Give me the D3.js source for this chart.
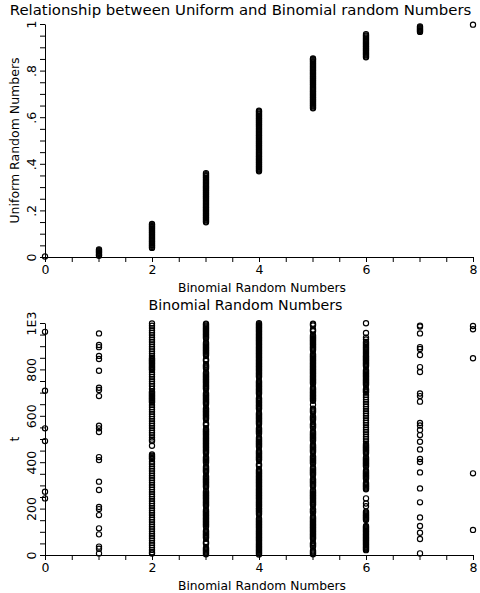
<!DOCTYPE html>
<html><head><meta charset="utf-8">
<script src="https://cdn.jsdelivr.net/npm/d3@7"></script>
<style>body{margin:0;background:#fff} svg{display:block} text{font-family:"DejaVu Sans",sans-serif;fill:#000}</style>
</head><body><svg id="c" width="480" height="593"></svg>
<script>
// ---- data ----
const binomialValues = [0, 1, 2, 3, 4, 5, 6, 7, 8];
const uniformCol0 = [0.002];
const uniformCol1 = [0.005, 0.009, 0.013, 0.017, 0.021, 0.025, 0.029, 0.033];
const uniformCol2 = [0.039, 0.043, 0.048, 0.052, 0.057, 0.061, 0.066, 0.070, 0.075, 0.079, 0.084, 0.088, 0.093, 0.097, 0.102, 0.106, 0.111, 0.115, 0.120, 0.124, 0.129, 0.133, 0.138, 0.142];
const uniformCol3 = [0.149, 0.153, 0.158, 0.162, 0.167, 0.171, 0.176, 0.180, 0.185, 0.189, 0.194, 0.198, 0.203, 0.207, 0.212, 0.216, 0.221, 0.225, 0.230, 0.234, 0.239, 0.243, 0.248, 0.252, 0.257, 0.261, 0.266, 0.270, 0.275, 0.279, 0.284, 0.288, 0.293, 0.297, 0.302, 0.306, 0.311, 0.315, 0.320, 0.324, 0.329, 0.333, 0.338, 0.342, 0.347, 0.351, 0.356, 0.360];
const uniformCol4 = [0.368, 0.372, 0.377, 0.381, 0.386, 0.390, 0.395, 0.399, 0.404, 0.408, 0.413, 0.417, 0.422, 0.426, 0.431, 0.435, 0.440, 0.444, 0.449, 0.453, 0.458, 0.462, 0.467, 0.471, 0.476, 0.480, 0.485, 0.489, 0.494, 0.498, 0.503, 0.507, 0.512, 0.516, 0.521, 0.525, 0.530, 0.534, 0.539, 0.543, 0.548, 0.552, 0.557, 0.561, 0.566, 0.570, 0.575, 0.579, 0.584, 0.588, 0.593, 0.597, 0.602, 0.606, 0.611, 0.615, 0.620, 0.624, 0.628];
const uniformCol5 = [0.638, 0.642, 0.647, 0.651, 0.656, 0.660, 0.665, 0.669, 0.674, 0.678, 0.683, 0.687, 0.692, 0.696, 0.701, 0.705, 0.710, 0.714, 0.719, 0.723, 0.728, 0.732, 0.737, 0.741, 0.746, 0.750, 0.755, 0.759, 0.764, 0.768, 0.773, 0.777, 0.782, 0.786, 0.791, 0.795, 0.800, 0.804, 0.809, 0.813, 0.818, 0.822, 0.827, 0.831, 0.836, 0.840, 0.845, 0.849, 0.852];
const uniformCol6 = [0.857, 0.861, 0.866, 0.870, 0.875, 0.879, 0.884, 0.888, 0.893, 0.897, 0.902, 0.906, 0.911, 0.915, 0.920, 0.924, 0.929, 0.933, 0.938, 0.942, 0.947, 0.951, 0.956];
const uniformCol7 = [0.966, 0.970, 0.974, 0.978, 0.982, 0.986, 0.990];
const uniformCol8 = [0.997];

const tCol0 = [962, 708, 546, 491, 273, 244];
const tCol1 = [955, 905, 896, 858, 845, 794, 721, 711, 685, 557, 546, 530, 422, 409, 316, 280, 207, 198, 172, 115, 89, 36, 27, 7];
const tCol2 = [998, 988, 978, 968, 958, 948, 938, 928, 918, 908, 898, 888, 878, 868, 858, 849, 845, 841, 837, 833, 829, 825, 821, 817, 813, 809, 805, 801, 797, 788, 778, 768, 758, 748, 738, 728, 716, 705, 701, 697, 693, 689, 685, 681, 677, 673, 669, 665, 661, 657, 647, 637, 627, 617, 607, 597, 587, 577, 567, 557, 547, 537, 527, 517, 507, 497, 491, 471, 433, 428, 423, 418, 414, 402, 392, 382, 372, 362, 352, 342, 332, 322, 312, 302, 292, 282, 272, 262, 252, 242, 232, 222, 212, 202, 192, 182, 172, 162, 152, 142, 132, 122, 112, 102, 92, 82, 72, 62, 52, 42, 32, 22, 12, 6];
const tCol3 = [997, 993, 989, 985, 981, 977, 973, 969, 965, 961, 957, 953, 949, 945, 941, 937, 933, 916, 912, 908, 904, 900, 896, 892, 888, 884, 880, 876, 872, 868, 864, 860, 844, 840, 836, 820, 816, 812, 808, 804, 787, 783, 779, 775, 771, 767, 763, 759, 755, 751, 747, 743, 739, 735, 731, 727, 723, 719, 715, 698, 694, 690, 686, 682, 678, 674, 670, 666, 662, 658, 654, 650, 633, 629, 625, 621, 617, 613, 609, 605, 601, 597, 593, 589, 585, 568, 564, 560, 543, 539, 535, 531, 527, 523, 519, 515, 511, 507, 503, 499, 495, 491, 487, 483, 479, 475, 471, 467, 463, 459, 455, 451, 447, 443, 439, 422, 418, 414, 410, 406, 402, 398, 381, 377, 373, 369, 365, 361, 357, 340, 336, 332, 328, 324, 320, 316, 312, 308, 304, 300, 296, 292, 275, 271, 267, 263, 259, 255, 251, 247, 243, 239, 235, 231, 227, 223, 219, 215, 211, 194, 190, 186, 182, 178, 174, 170, 166, 162, 158, 154, 150, 146, 142, 138, 134, 130, 126, 122, 105, 101, 97, 93, 89, 85, 81, 77, 73, 56, 52, 48, 31, 27, 23, 19, 15, 11, 7, 3];
const tCol4 = [999, 995, 991, 987, 983, 979, 975, 971, 967, 963, 959, 955, 951, 947, 943, 939, 935, 931, 927, 923, 919, 915, 911, 907, 903, 899, 895, 891, 887, 883, 879, 875, 871, 867, 863, 859, 855, 851, 847, 843, 839, 835, 831, 827, 823, 819, 815, 811, 807, 803, 799, 795, 791, 787, 783, 779, 775, 771, 767, 750, 746, 742, 738, 734, 730, 726, 722, 718, 714, 710, 706, 702, 698, 694, 677, 673, 669, 665, 661, 657, 653, 649, 645, 641, 637, 633, 629, 612, 608, 604, 600, 596, 592, 588, 584, 580, 576, 572, 568, 564, 547, 543, 539, 535, 531, 527, 523, 506, 502, 498, 494, 490, 486, 482, 478, 474, 470, 466, 449, 445, 441, 437, 433, 429, 425, 421, 417, 413, 409, 392, 388, 384, 367, 363, 359, 355, 351, 347, 343, 339, 335, 331, 327, 323, 319, 315, 311, 307, 303, 299, 295, 291, 287, 283, 279, 275, 271, 267, 263, 259, 255, 251, 247, 243, 239, 235, 231, 227, 223, 219, 215, 211, 207, 203, 199, 195, 191, 187, 183, 179, 175, 158, 154, 150, 146, 142, 138, 134, 130, 126, 122, 118, 114, 110, 106, 102, 98, 94, 90, 86, 82, 78, 74, 70, 66, 62, 58, 54, 50, 46, 42, 38, 34, 30, 26, 22, 18, 14, 10, 6, 2];
const tCol5 = [997, 993, 989, 972, 968, 964, 947, 943, 939, 935, 931, 927, 923, 919, 915, 911, 907, 903, 899, 895, 891, 887, 883, 866, 862, 858, 854, 850, 846, 842, 838, 834, 830, 826, 822, 818, 814, 810, 806, 802, 798, 794, 790, 786, 782, 778, 774, 770, 766, 762, 758, 754, 750, 746, 742, 738, 721, 717, 713, 709, 705, 701, 697, 693, 689, 685, 681, 677, 673, 669, 665, 648, 631, 627, 623, 619, 615, 598, 594, 590, 586, 582, 565, 561, 557, 553, 549, 532, 528, 524, 520, 516, 512, 508, 504, 500, 496, 492, 475, 471, 467, 463, 459, 455, 451, 447, 443, 426, 422, 418, 414, 410, 406, 402, 398, 394, 377, 373, 369, 365, 361, 357, 353, 349, 345, 328, 324, 320, 316, 312, 308, 304, 300, 296, 279, 275, 271, 267, 263, 259, 255, 251, 247, 243, 239, 235, 231, 227, 223, 219, 215, 198, 194, 190, 186, 182, 165, 161, 157, 153, 149, 145, 141, 137, 133, 129, 125, 121, 117, 113, 109, 105, 101, 97, 93, 89, 85, 81, 77, 73, 69, 52, 48, 44, 40, 36, 19, 15, 11, 7, 3];
const tCol6 = [999, 957, 937, 929, 918, 913, 908, 903, 898, 893, 888, 883, 878, 873, 868, 863, 858, 854, 850, 846, 842, 838, 834, 830, 826, 822, 818, 814, 797, 793, 789, 785, 781, 777, 773, 769, 765, 761, 757, 753, 749, 745, 741, 737, 733, 716, 712, 708, 704, 700, 690, 680, 670, 660, 650, 640, 630, 620, 610, 600, 590, 580, 570, 560, 550, 540, 530, 520, 510, 500, 490, 480, 474, 470, 466, 462, 458, 454, 450, 446, 442, 438, 421, 417, 413, 409, 405, 401, 397, 393, 389, 385, 381, 364, 360, 356, 352, 348, 344, 340, 336, 332, 328, 311, 307, 303, 299, 295, 291, 287, 283, 244, 222, 210, 187, 183, 179, 175, 171, 167, 163, 159, 155, 151, 125, 121, 117, 113, 109, 105, 101, 97, 93, 89, 85, 81, 77, 73, 69, 65, 61, 57, 53, 49, 45, 41, 37, 33, 29, 25, 21];
const tCol7 = [989, 985, 955, 896, 888, 862, 810, 789, 696, 685, 661, 569, 558, 539, 517, 488, 455, 414, 401, 356, 287, 227, 162, 125, 96, 69, 7];
const tCol8 = [987, 973, 848, 352, 108];

const xTickValues = [0, 2, 4, 6, 8];
const uTickValues = [0, 0.2, 0.4, 0.6, 0.8, 1];
const uTickLabels = ["0", ".2", ".4", ".6", ".8", "1"];
const tTickValues = [0, 200, 400, 600, 800, 1000];
const tTickLabels = ["0", "200", "400", "600", "800", "1E3"];

const titleTop = "Relationship between Uniform and Binomial random Numbers";
const titleBottom = "Binomial Random Numbers";
const xTitle = "Binomial Random Numbers";
const yTitleTop = "Uniform Random Numbers";
const yTitleBottom = "t";

// ---- build point tables ----
const uniformCols = [uniformCol0, uniformCol1, uniformCol2, uniformCol3, uniformCol4, uniformCol5, uniformCol6, uniformCol7, uniformCol8];
const tCols = [tCol0, tCol1, tCol2, tCol3, tCol4, tCol5, tCol6, tCol7, tCol8];
const topPts = [], botPts = [];
binomialValues.forEach((b, i) => {
  uniformCols[i].forEach(u => topPts.push({b, v: u}));
  tCols[i].forEach(t => botPts.push({b, v: t}));
});

const svg = d3.select("#c");
const x = d3.scaleLinear().domain([0, 8]).range([45, 473]);
const yTop = d3.scaleLinear().domain([0, 1]).range([257, 24]);
const yBot = d3.scaleLinear().domain([0, 1000]).range([555, 323]);

function drawPanel(y, pts, yMinor, yLabels, yMajor, yTitle, xTitleY) {
  const xMinor = d3.range(0, 8.001, 0.5);
  const gx = svg.append("g").attr("transform", `translate(0,${y.range()[0]})`)
    .call(d3.axisBottom(x).tickValues(xMinor).tickSize(5).tickSizeOuter(0).tickPadding(3)
      .tickFormat(d => xTickValues.includes(d) ? String(d) : ""));
  gx.selectAll("text").style("font-size", "12.5px");
  gx.selectAll("line,path").attr("stroke", "#000");
  const gy = svg.append("g").attr("transform", `translate(${x(0)},0)`)
    .call(d3.axisLeft(y).tickValues(yMinor).tickSize(5).tickSizeOuter(0)
      .tickFormat(d => { const k = yMajor.findIndex(m => Math.abs(m - d) < 1e-9); return k >= 0 ? yLabels[k] : ""; }));
  gy.selectAll("line,path").attr("stroke", "#000");
  gy.selectAll("text").style("font-size", "12.5px")
    .attr("x", null).attr("dy", null).attr("text-anchor", "middle")
    .attr("transform", "translate(-9,0) rotate(-90)");
  svg.append("g").selectAll("circle").data(pts).join("circle")
    .attr("cx", d => Math.round(x(d.b))).attr("cy", d => y(d.v)).attr("r", 2.6)
    .attr("fill", "none").attr("stroke", "#000").attr("stroke-width", 1.15);
  svg.append("text").attr("x", 262).attr("y", xTitleY).attr("text-anchor", "middle")
    .style("font-size", "12.3px").text(xTitle);
  const cy = (y.range()[0] + y.range()[1]) / 2;
  svg.append("text").attr("transform", `translate(18.5,${cy}) rotate(-90)`).attr("text-anchor", "middle")
    .style("font-size", "12.5px").text(yTitle);
}

drawPanel(yTop, topPts, d3.range(0, 1.0001, 0.05), uTickLabels, uTickValues, yTitleTop, 292);
drawPanel(yBot, botPts, d3.range(0, 1000.1, 50), tTickLabels, tTickValues, yTitleBottom, 590);

svg.append("text").attr("x", 240.5).attr("y", 15).attr("text-anchor", "middle")
  .style("font-size", "14.9px").text(titleTop);
svg.append("text").attr("x", 245.5).attr("y", 310).attr("text-anchor", "middle")
  .style("font-size", "14.2px").text(titleBottom);
</script></body></html>
